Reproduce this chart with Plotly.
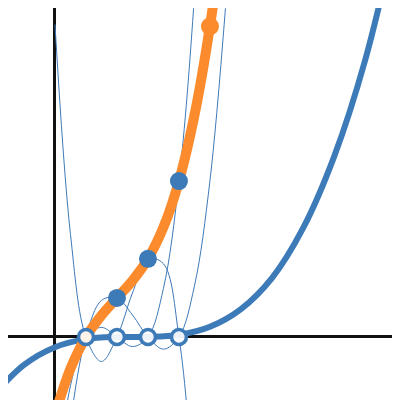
import plotly.graph_objects as go

xs = [0, 0.5, 1, 1.5, 2, 2.5, 3, 3.5, 4, 4.5, 5, 5.5]
orange = [-2.51, -1.02, 0, 0.70, 1.26, 1.82, 2.52, 3.54, 5.03, 7.15, 10.02, 13.8]
c2 = [-7.56, -2.76, 0, 1.18, 1.26, 0.71, 0, -0.39, 0, 1.65, 5.04, 10.6]
c3 = [10.08, 3.31, 0, -0.79, 0, 1.42, 2.52, 2.36, 0, -5.5, -15.1, -29.8]
c4 = [-5.03, -1.57, 0, 0.31, 0, -0.31, 0, 1.57, 5.03, 11.0, 20.1, 33.0]

bx = [-2, -1, 0, 1, 2, 3, 4, 5, 6, 7, 8, 9, 10, 11, 12]
blue = [-1.9, -0.9, -0.33, -0.07, 0, 0, 0.07, 0.33, 0.9, 1.9, 3.5, 5.8, 8.9, 13, 17.5]

node_x = [1, 2, 3, 4]
node_y = [0, 0, 0, 0]
pt_x = [2, 3, 4]
pt_y = [1.26, 2.52, 5.03]
top_x = [5]
top_y = [10.02]

BLUE = '#3d7ab8'
ORANGE = '#fb8b2c'

fig = go.Figure()
for c in [c2, c3, c4]:
    fig.add_trace(go.Scatter(x=xs, y=c, mode='lines', line=dict(color=BLUE, width=1, shape='spline')))
fig.add_trace(go.Scatter(x=bx, y=blue, mode='lines', line=dict(color=BLUE, width=6, shape='spline')))
fig.add_trace(go.Scatter(x=xs, y=orange, mode='lines', line=dict(color=ORANGE, width=10, shape='spline')))
fig.add_trace(go.Scatter(x=top_x, y=top_y, mode='markers', marker=dict(color=ORANGE, size=18)))
fig.add_trace(go.Scatter(x=pt_x, y=pt_y, mode='markers', marker=dict(color=BLUE, size=18)))
fig.add_trace(go.Scatter(x=node_x, y=node_y, mode='markers',
                         marker=dict(color='rgba(255,255,255,0.9)', size=15, line=dict(color=BLUE, width=3.5))))

# page body has an 8px margin, so ranges are shifted to line up with the window
fig.update_layout(width=400, height=400, margin=dict(l=0, r=0, t=0, b=0), showlegend=False,
                  plot_bgcolor='white', paper_bgcolor='white')
fig.update_xaxes(range=[-1.516, 11.39], showgrid=False, showticklabels=False, zeroline=True,
                 zerolinecolor='#111', zerolinewidth=2.5)
fig.update_yaxes(range=[-2.29, 10.61], showgrid=False, showticklabels=False, zeroline=True,
                 zerolinecolor='#111', zerolinewidth=2.5)
fig.write_html("out.html")
